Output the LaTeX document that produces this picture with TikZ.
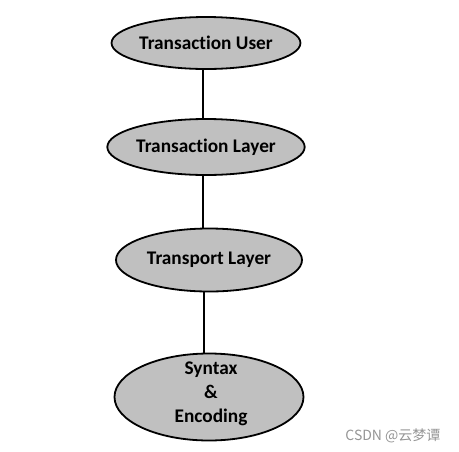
\documentclass[tikz,border=0pt]{standalone}
\usepackage{fontspec}
\setmainfont[Ligatures={NoCommon}]{Carlito}
\newfontfamily\cjkfont{Noto Sans CJK SC}
\usetikzlibrary{shapes.geometric}
\definecolor{layerfill}{RGB}{192,192,192}
\definecolor{wmark}{RGB}{150,150,150}
\tikzset{
  layer/.style={ellipse, draw=black, line width=1.8pt, fill=layerfill, inner sep=0pt,
    font=\fontsize{19.3}{24}\selectfont\bfseries, text=black, align=center},
  link/.style={line width=2.8pt, black}
}
\begin{document}
\begin{tikzpicture}[x=1pt,y=-1pt]
\useasboundingbox[fill=white] (0,0) rectangle (459,451);
\node[layer, minimum width=186pt, minimum height=52pt] (tu) at (206,43) {Transaction User};
\node[layer, minimum width=187pt, minimum height=56pt] (tl) at (206,147) {Transaction Layer};
\node[layer, minimum width=186pt, minimum height=63pt] (tp) at (209,260) {Transport Layer};
\node[layer, minimum width=189pt, minimum height=87pt] (se) at (209,397) {};
\node[font=\fontsize{19.3}{24}\selectfont\bfseries, align=center] (st) at (211,394) {Syntax\\\&\\Encoding};
\draw[link] (203,69) -- (203,119);
\draw[link] (203,175) -- (203,229);
\draw[link] (204,291) -- (204,354);
\node[font=\cjkfont\fontsize{14}{16}\selectfont, text=wmark, anchor=east] (wm) at (444,436) {CSDN @云梦谭};
\end{tikzpicture}
\end{document}
